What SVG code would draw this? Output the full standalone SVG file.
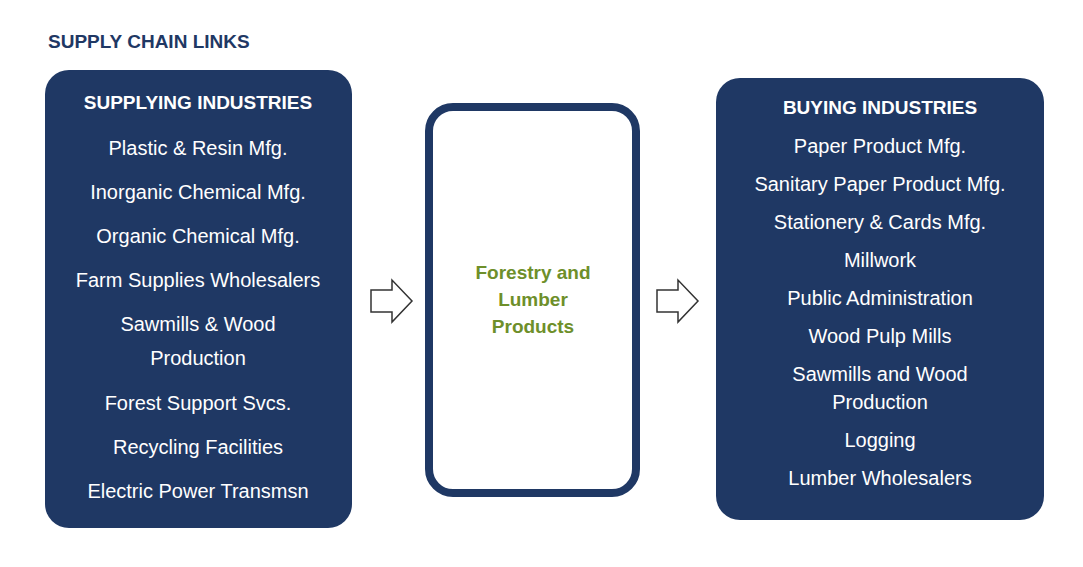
<svg xmlns="http://www.w3.org/2000/svg" width="1083" height="567" viewBox="0 0 1083 567">
<style>
.box{fill:#1f3864}
.h{font-family:"Liberation Sans",Arial,sans-serif;font-weight:bold;font-size:19px;fill:#fff;text-anchor:middle}
.t{font-family:"Liberation Sans",Arial,sans-serif;font-size:20px;fill:#fff;text-anchor:middle}
.c{font-family:"Liberation Sans",Arial,sans-serif;font-weight:bold;font-size:19px;fill:#6e8f2a;text-anchor:middle}
.arr{fill:#fff;stroke:#333;stroke-width:1.5}
</style>
<rect width="1083" height="567" fill="#fff"/>
<text x="48" y="48" font-family="Liberation Sans,Arial,sans-serif" font-weight="bold" font-size="19" fill="#1f3864">SUPPLY CHAIN LINKS</text>
<g id="supplying">
<rect class="box" x="45" y="70" width="307" height="458" rx="24"/>
<text class="h" x="198" y="109">SUPPLYING INDUSTRIES</text>
<text class="t" x="198" y="155">Plastic &amp; Resin Mfg.</text>
<text class="t" x="198" y="199">Inorganic Chemical Mfg.</text>
<text class="t" x="198" y="243">Organic Chemical Mfg.</text>
<text class="t" x="198" y="287">Farm Supplies Wholesalers</text>
<text class="t" x="198" y="331">Sawmills &amp; Wood</text>
<text class="t" x="198" y="365">Production</text>
<text class="t" x="198" y="410">Forest Support Svcs.</text>
<text class="t" x="198" y="454">Recycling Facilities</text>
<text class="t" x="198" y="498">Electric Power Transmsn</text>
</g>
<g id="center">
<rect x="429" y="107" width="207" height="386" rx="24" fill="#fff" stroke="#1f3864" stroke-width="8"/>
<text class="c" x="533" y="279">Forestry and</text>
<text class="c" x="533" y="306">Lumber</text>
<text class="c" x="533" y="333">Products</text>
</g>
<g id="buying">
<rect class="box" x="716" y="78" width="328" height="442" rx="24"/>
<text class="h" x="880" y="114">BUYING INDUSTRIES</text>
<text class="t" x="880" y="153">Paper Product Mfg.</text>
<text class="t" x="880" y="191">Sanitary Paper Product Mfg.</text>
<text class="t" x="880" y="229">Stationery &amp; Cards Mfg.</text>
<text class="t" x="880" y="267">Millwork</text>
<text class="t" x="880" y="305">Public Administration</text>
<text class="t" x="880" y="343">Wood Pulp Mills</text>
<text class="t" x="880" y="381">Sawmills and Wood</text>
<text class="t" x="880" y="409">Production</text>
<text class="t" x="880" y="447">Logging</text>
<text class="t" x="880" y="485">Lumber Wholesalers</text>
</g>
<g id="connectors">
<path class="arr" d="M371 290 H392 V280 L412 301 L392 322 V312 H371 Z"/>
<path class="arr" d="M657 290 H678 V280 L698 301 L678 322 V312 H657 Z"/>
</g>
</svg>
